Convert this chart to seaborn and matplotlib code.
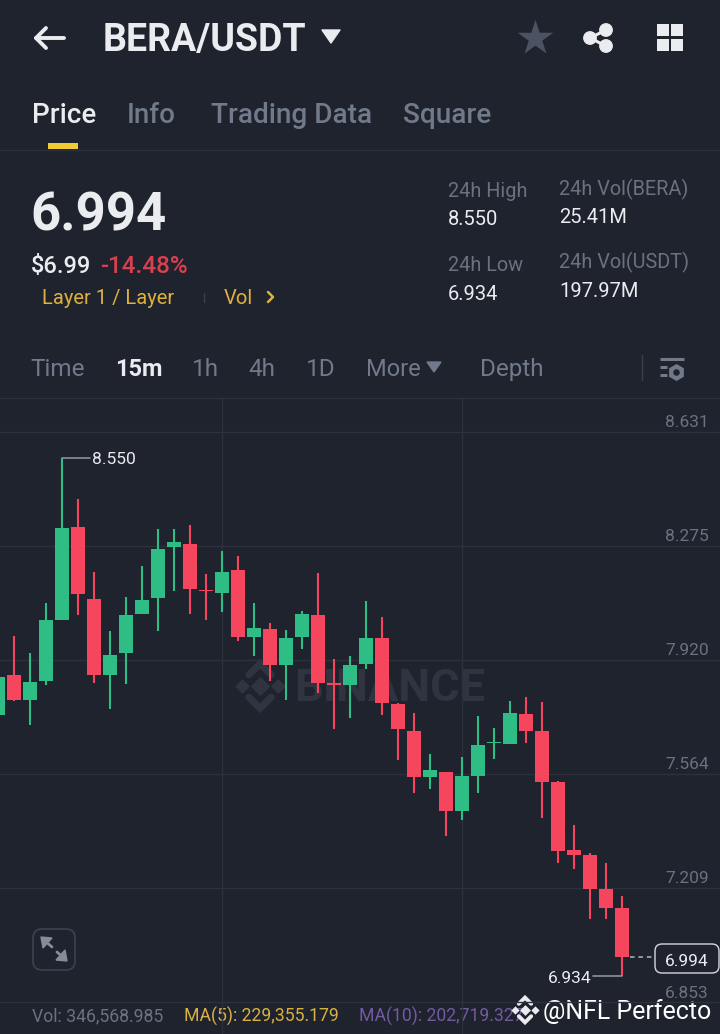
import numpy as np
import pandas as pd
import matplotlib
matplotlib.use("Agg")
import matplotlib.pyplot as plt
from matplotlib.patches import FancyBboxPatch, Rectangle, Polygon, Circle
import seaborn as sns

# candles, 15m BERA/USDT
opens = [7.748, 7.871, 7.795, 7.855, 8.043, 8.334, 8.110, 7.874, 7.940, 8.063,
         8.112, 8.270, 8.281, 8.138, 8.129, 8.200, 7.990, 8.015, 7.905, 7.992,
         8.059, 7.847, 7.842, 7.906, 7.987, 7.781, 7.699, 7.555, 7.571, 7.448,
         7.558, 7.660, 7.658, 7.750, 7.697, 7.540, 7.327, 7.312, 7.206, 7.147]
closes = [7.866, 7.795, 7.850, 8.043, 8.332, 8.124, 7.873, 7.935, 8.061, 8.106,
          8.265, 8.287, 8.140, 8.133, 8.194, 7.992, 8.019, 7.905, 7.987, 8.062,
          7.847, 7.842, 7.904, 7.987, 7.786, 7.703, 7.555, 7.576, 7.449, 7.557,
          7.655, 7.664, 7.753, 7.698, 7.540, 7.324, 7.312, 7.205, 7.147, 6.994]
highs = [7.888, 7.995, 7.942, 8.096, 8.550, 8.421, 8.193, 8.010, 8.117, 8.213,
         8.327, 8.327, 8.341, 8.187, 8.259, 8.244, 8.097, 8.034, 8.012, 8.072,
         8.190, 7.922, 7.931, 8.103, 8.054, 7.786, 7.753, 7.627, 7.571, 7.618,
         7.744, 7.708, 7.792, 7.803, 7.789, 7.542, 7.405, 7.317, 7.286, 7.185]
lows = [7.726, 7.793, 7.717, 7.842, 8.043, 8.059, 7.849, 7.768, 7.845, 8.063,
        8.011, 8.134, 8.063, 8.044, 8.069, 7.977, 7.932, 7.855, 7.795, 7.954,
        7.816, 7.703, 7.738, 7.891, 7.748, 7.608, 7.504, 7.517, 7.370, 7.421,
        7.505, 7.610, 7.658, 7.662, 7.426, 7.287, 7.269, 7.112, 7.112, 6.934]

tick_prices = [8.631, 8.275, 7.920, 7.564, 7.209, 6.853]
tick_labels = ["8.631", "8.275", "7.920", "7.564", "7.209", "6.853"]
time_grid = [14, 29]

BG = "#1e232d"
GRID = "#2c313c"
GREEN = "#2ebd85"
RED = "#f6465d"
WHITE = "#eaecef"
GRAY = "#707a8a"
DIM = "#6a7280"
GOLD = "#dfb13c"

sns.set_theme(style="dark", rc={"figure.facecolor": BG, "axes.facecolor": BG})
plt.rcParams["font.family"] = ["Roboto", "DejaVu Sans"]

W, H = 720, 1034
fig = plt.figure(figsize=(W / 100, H / 100), dpi=100, facecolor=BG)

# app chrome, drawn in screen pixels
ui = fig.add_axes([0, 0, 1, 1], zorder=0)
ui.set_xlim(0, W)
ui.set_ylim(H, 0)
ui.axis("off")


def label(x, y, s, size, color=WHITE, weight="normal", ha="left", **kw):
    # roboto sits a bit high with va=center
    ui.text(x, y + size * 0.11, s, fontsize=size, color=color, fontweight=weight, ha=ha, va="center", **kw)


def hline(y, x0=0, x1=W, color=GRID, lw=1):
    ui.plot([x0, x1], [y, y], color=color, lw=lw, solid_capstyle="butt")


def binance_logo(cx, cy, r, color, zorder=3):
    ui.scatter([cx], [cy], marker="D", s=(r * 0.55) ** 2, color=color, linewidths=0, zorder=zorder)
    for dx in (-r, r):
        ui.scatter([cx + dx], [cy], marker="D", s=(r * 0.42) ** 2, color=color, linewidths=0, zorder=zorder)
    for sy in (-1, 1):
        ui.plot([cx - r * 0.62, cx, cx + r * 0.62],
                [cy + sy * r * 0.62, cy + sy * r * 1.24, cy + sy * r * 0.62],
                color=color, lw=r * 0.28, solid_joinstyle="miter", zorder=zorder)


# header
ui.plot([36, 64], [38, 38], color=WHITE, lw=2.8, solid_capstyle="round")
ui.plot([46, 36, 46], [28, 38, 48], color=WHITE, lw=2.8, solid_capstyle="round", solid_joinstyle="round")
label(103, 38, "BERA/USDT", 27, weight="bold")
ui.add_patch(Polygon([[322, 30], [340, 30], [331, 43]], closed=True, color=WHITE, joinstyle="round"))
ui.scatter([535], [38], marker="*", s=720, color="#4b5362", linewidths=0)
for cx, cy in [(606, 30), (590, 38), (606, 46)]:
    ui.add_patch(Circle((cx, cy), 6.2, color=WHITE))
ui.plot([606, 590, 606], [30, 38, 46], color=WHITE, lw=2.2)
for qx in (656.5, 671):
    for qy in (23.5, 38.5):
        ui.add_patch(Rectangle((qx, qy), 12, 12, color=WHITE, linewidth=0))

# tabs
label(32, 113, "Price", 20, weight="medium")
label(127, 113, "Info", 20, color=GRAY, weight="medium")
label(211, 113, "Trading Data", 20.2, color=GRAY, weight="medium")
label(403, 113, "Square", 20.2, color=GRAY, weight="medium")
ui.add_patch(Rectangle((48, 143), 30, 6, color="#f0cb35", linewidth=0))
hline(149.5)

# price block
label(30, 212, "6.994", 38, weight="bold")
label(31, 265, "$6.99", 17, weight="medium")
label(100, 265, "-14.48%", 17.5, color="#d9404f", weight="medium")
label(42, 297, "Layer 1 / Layer", 14.5, color=GOLD)
ui.plot([204, 204], [293, 302], color="#3a404c", lw=1)
label(224, 297, "Vol", 14.5, color=GOLD)
ui.plot([268, 273, 268], [292, 297, 302], color=GOLD, lw=1.8)

label(448, 190, "24h High", 14.3, color=DIM)
label(448, 218, "8.550", 14.5)
label(448, 264, "24h Low", 14.3, color=DIM)
label(448, 293, "6.934", 14.5)
label(559, 188, "24h Vol(BERA)", 14.3, color=DIM)
label(559, 216, "25.41M", 14.5)
label(559, 261, "24h Vol(USDT)", 14.3, color=DIM)
label(559, 290, "197.97M", 14.5)

# interval bar
label(30, 368, "Time", 17.5, color=GRAY)
label(115, 368, "15m", 17, weight="bold")
label(192, 368, "1h", 17.5, color=GRAY)
label(248, 368, "4h", 17.5, color=GRAY)
label(306, 368, "1D", 17.5, color=GRAY)
label(366, 368, "More", 17, color=GRAY)
ui.add_patch(Polygon([[427, 362], [441, 362], [434, 372]], closed=True, color=GRAY))
label(480, 368, "Depth", 17.5, color=GRAY)
ui.plot([642, 642], [355, 380], color="#3a404c", lw=1)
hline(358.5, 660, 684, color=GRAY, lw=2.2)
hline(367, 660, 667, color=GRAY, lw=2.2)
hline(375, 660, 667, color=GRAY, lw=2.2)
ui.scatter([676], [372], marker="h", s=150, color=GRAY, linewidths=0)
ui.scatter([676], [372], marker="o", s=22, color=BG, linewidths=0)
hline(398)

# watermark behind the candles
binance_logo(260, 686, 18, "#2f3440")
label(294, 685, "BINANCE", 32.5, color="#2f3440", weight="bold")

# expand button
ui.add_patch(FancyBboxPatch((33, 929), 42, 41, boxstyle="round,pad=0,rounding_size=9",
                            fc="none", ec="#3a404c", lw=1.3))
ui.plot([44, 52], [940, 947], color="#858c99", lw=2)
ui.plot([57, 65], [952, 959], color="#858c99", lw=2)
ui.add_patch(Polygon([[41, 937], [52, 938], [43, 948]], closed=True, color="#858c99"))
ui.add_patch(Polygon([[67, 961], [56, 960], [65, 950]], closed=True, color="#858c99"))

# footer
label(32, 1015, "Vol: 346,568.985", 12.7, color=DIM)
label(184, 1015, "MA(5): 229,355.179", 12.7, color="#d9b044")
label(359, 1015, "MA(10): 202,719.327", 12.7, color="#7459a3")
binance_logo(525, 1010, 10, WHITE, zorder=5)
label(543, 1010, "@NFL Perfecto", 18, color="white", zorder=5)

# candle chart
ax = fig.add_axes([0, 0, 1, (H - 398) / H], zorder=1)
ax.patch.set_alpha(0)

rows = []
for i, (o, c, hi, lo) in enumerate(zip(opens, closes, highs, lows)):
    direction = "up" if c >= o else "down"
    rows.append((i, min(o, c), abs(c - o), hi, lo, direction))
candles = pd.DataFrame(rows, columns=["candle", "body_low", "body", "high", "low", "direction"])
wicks = candles.melt(id_vars=["candle", "direction"], value_vars=["high", "low"], value_name="price")
pal = {"up": GREEN, "down": RED}

sns.lineplot(data=wicks, x="candle", y="price", hue="direction", units="candle", estimator=None,
             sort=False, palette=pal, lw=1.5, legend=False, ax=ax, solid_capstyle="butt")
# bodies as floating bars, the first one hangs off the left edge
for direction, group in candles.groupby("direction"):
    sns.barplot(data=group, x="candle", y="body", bottom=group["body_low"].values, native_scale=True,
                width=14.3 / 16, color=pal[direction], saturation=1, errorbar=None, linewidth=0, ax=ax)

ax.set_xlim(0.125, 45.125)
ax.set_ylim(6.7534, 8.736)
ax.set_xticks(time_grid)
ax.set_yticks(tick_prices)
ax.set_xticklabels([])
ax.set_yticklabels([])
ax.set_xlabel("")
ax.set_ylabel("")
ax.grid(True, color=GRID, lw=1)
ax.set_axisbelow(True)
ax.tick_params(length=0)
sns.despine(ax=ax, left=True, bottom=True)

for p, s in zip(tick_prices, tick_labels):
    ax.annotate(s, xy=(1, p), xycoords=ax.get_yaxis_transform(), xytext=(-11, 9),
                textcoords="offset pixels", ha="right", va="center", fontsize=12.5, color=DIM)

# high / low leaders and the last price tag
hi_i = int(np.argmax(highs))
lo_i = int(np.argmin(lows))
ax.plot([hi_i, hi_i + 1.75], [highs[hi_i], highs[hi_i]], color="#8a919c", lw=1.2)
ax.annotate(f"{highs[hi_i]:.3f}", xy=(hi_i + 1.9, highs[hi_i]), xytext=(0, -2), textcoords="offset pixels",
            ha="left", va="center", fontsize=12.5, color=WHITE)
ax.plot([lo_i, lo_i - 1.8], [lows[lo_i], lows[lo_i]], color="#8a919c", lw=1.2)
ax.annotate(f"{lows[lo_i]:.3f}", xy=(lo_i - 1.9, lows[lo_i]), xytext=(0, -2), textcoords="offset pixels",
            ha="right", va="center", fontsize=12.5, color=WHITE)
ax.plot([len(closes) - 0.5, 41], [closes[-1], closes[-1]], color="#b0b5bd", lw=1.1, ls=(0, (3, 2.5)))

ui.add_patch(FancyBboxPatch((655, 944), 64, 29, boxstyle="round,pad=0,rounding_size=7",
                            fc=BG, ec="#d5d8dc", lw=1))
label(687, 960, f"{closes[-1]:.3f}", 12.5, color=WHITE, ha="center")

fig.savefig("out.png", dpi=100, facecolor=BG)
